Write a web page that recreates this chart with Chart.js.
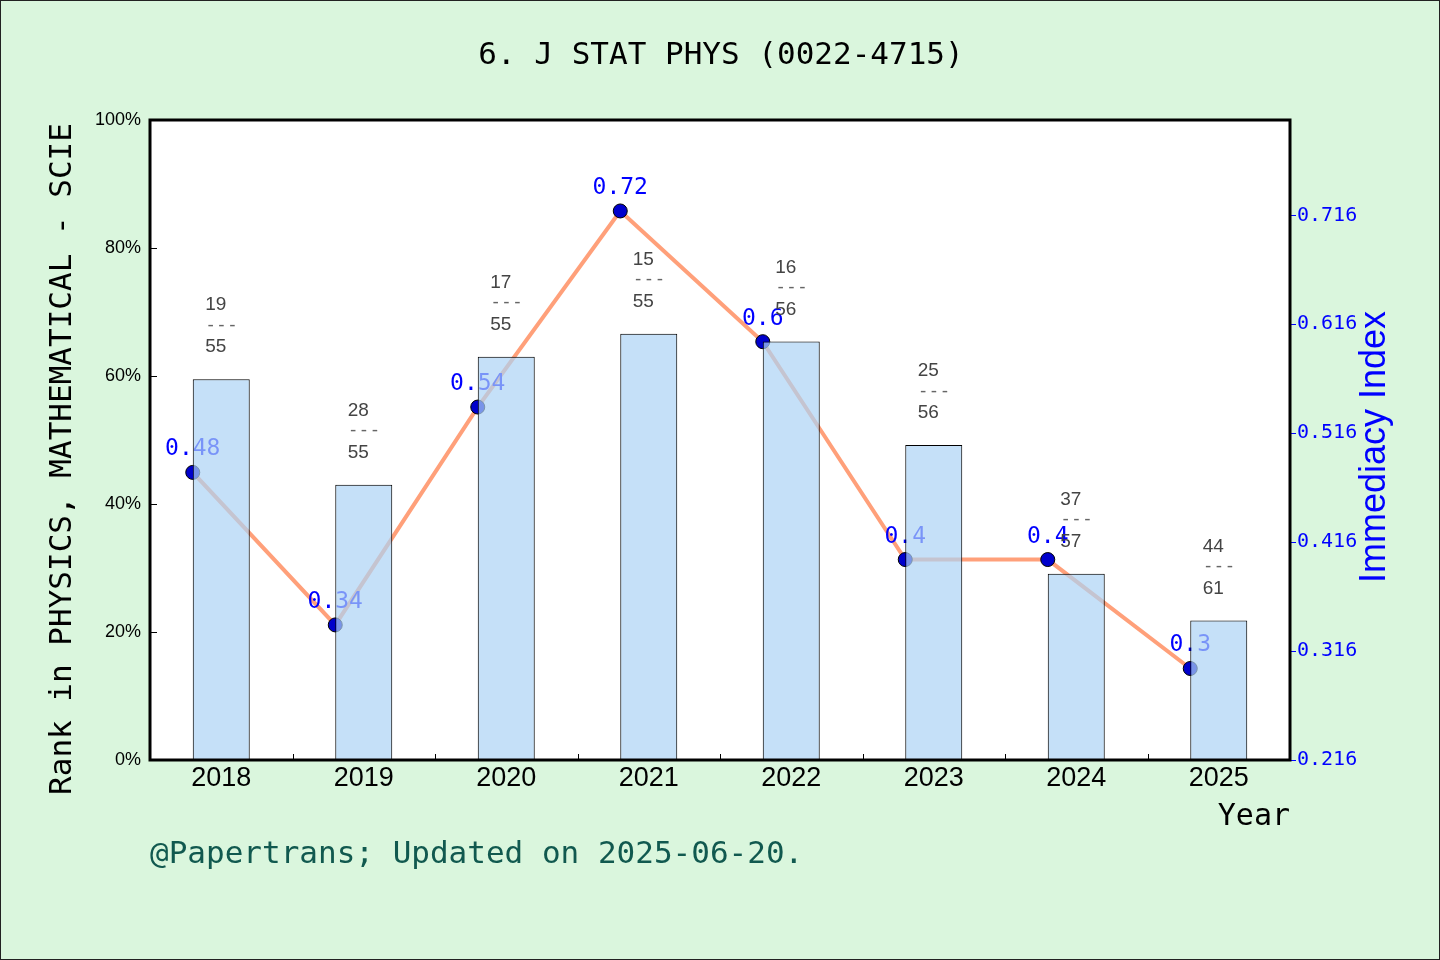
<!DOCTYPE html>
<html>
<head>
<meta charset="utf-8">
<script src="https://cdn.jsdelivr.net/npm/chart.js@4.4.1/dist/chart.umd.min.js"></script>
<style>
html, body { margin: 0; padding: 0; background: #daf6dd; }
canvas { display: block; }
</style>
</head>
<body>
<canvas id="rankChart" width="1440" height="960"></canvas>
<script>
// data
const years = ['2018', '2019', '2020', '2021', '2022', '2023', '2024', '2025'];
const rankPercent = [59.5, 43.0, 63.0, 66.6, 65.4, 49.2, 29.1, 21.8];
const rankPos = [19, 28, 17, 15, 16, 25, 37, 44];
const rankTotal = [55, 55, 55, 55, 56, 56, 57, 61];
const immediacy = [0.48, 0.34, 0.54, 0.72, 0.6, 0.4, 0.4, 0.3];
const leftTicks = [0, 20, 40, 60, 80, 100];
const rightTicks = [0.216, 0.316, 0.416, 0.516, 0.616, 0.716];

const chartTitle = '6. J STAT PHYS (0022-4715)';
const footNote = '@Papertrans; Updated on 2025-06-20.';
const leftTitle = 'Rank in PHYSICS, MATHEMATICAL - SCIE';
const rightTitle = 'Immediacy Index';
const xTitle = 'Year';

const MONO = '"DejaVu Sans Mono", monospace';
const SANS = '"Liberation Sans", Arial, sans-serif';

// points sit on the left edge of each bar
const linePoints = immediacy.map((v, i) => ({ x: i - 0.2, y: v }));

const decor = {
  id: 'decor',
  beforeDraw(chart) {
    const ctx = chart.ctx;
    const a = chart.chartArea;
    ctx.save();
    ctx.fillStyle = '#daf6dd';
    ctx.fillRect(0, 0, chart.width, chart.height);
    ctx.fillStyle = '#ffffff';
    ctx.fillRect(a.left, a.top, a.right - a.left, a.bottom - a.top);
    ctx.restore();
  },
  beforeDatasetDraw(chart, args) {
    // value labels go under the translucent bars
    if (args.index !== 0) return;
    const ctx = chart.ctx;
    const meta = chart.getDatasetMeta(1);
    ctx.save();
    ctx.font = '23px ' + MONO;
    ctx.fillStyle = '#0000ff';
    ctx.textAlign = 'center';
    ctx.textBaseline = 'middle';
    meta.data.forEach((pt, i) => {
      ctx.fillText(String(immediacy[i]), pt.x, pt.y - 23);
    });
    ctx.restore();
  },
  afterDatasetsDraw(chart) {
    const ctx = chart.ctx;
    const a = chart.chartArea;
    const bars = chart.getDatasetMeta(0).data;
    ctx.save();
    // rank fractions above bars
    ctx.textBaseline = 'middle';
    ctx.textAlign = 'left';
    bars.forEach((bar, i) => {
      const x = bar.x - 16;
      ctx.fillStyle = '#444';
      ctx.font = '19px ' + SANS;
      ctx.fillText(String(rankPos[i]), x, bar.y - 74);
      ctx.fillText(String(rankTotal[i]), x, bar.y - 32);
      ctx.fillStyle = '#666';
      ctx.font = '18px ' + MONO;
      ctx.fillText('---', x, bar.y - 54);
    });

    // inward tick marks
    const ys = chart.scales.y;
    const xs = chart.scales.x;
    ctx.strokeStyle = '#000';
    ctx.lineWidth = 1;
    ctx.beginPath();
    leftTicks.forEach(v => {
      const y = Math.round(ys.getPixelForValue(v)) + 0.5;
      ctx.moveTo(a.left, y);
      ctx.lineTo(a.left + 7, y);
    });
    for (let i = 0; i < years.length - 1; i++) {
      const x = Math.round((xs.getPixelForValue(i) + xs.getPixelForValue(i + 1)) / 2) + 0.5;
      ctx.moveTo(x, a.bottom);
      ctx.lineTo(x, a.bottom - 6);
    }
    ctx.stroke();

    // plot frame
    ctx.lineWidth = 3;
    ctx.strokeRect(a.left, a.top, a.right - a.left, a.bottom - a.top);
    ctx.restore();
  },
  afterDraw(chart) {
    const ctx = chart.ctx;
    const a = chart.chartArea;
    ctx.save();
    ctx.textBaseline = 'middle';

    ctx.fillStyle = '#000';
    ctx.font = '31px ' + MONO;
    ctx.textAlign = 'center';
    ctx.fillText(chartTitle, 721, 56);

    ctx.save();
    ctx.translate(63, 459);
    ctx.rotate(-Math.PI / 2);
    ctx.fillText(leftTitle, 0, 0);
    ctx.restore();

    ctx.save();
    ctx.translate(1375, 447);
    ctx.rotate(-Math.PI / 2);
    ctx.fillStyle = '#0000ff';
    ctx.font = '36px ' + SANS;
    ctx.fillText(rightTitle, 0, 0);
    ctx.restore();

    ctx.font = '30px ' + MONO;
    ctx.textAlign = 'right';
    ctx.fillText(xTitle, a.right, 817);

    ctx.fillStyle = '#11594f';
    ctx.font = '31px ' + MONO;
    ctx.textAlign = 'left';
    ctx.fillText(footNote, 150, 855);

    ctx.strokeStyle = '#222';
    ctx.lineWidth = 1;
    ctx.strokeRect(0.5, 0.5, chart.width - 1, chart.height - 1);
    ctx.restore();
  }
};

const ctx = document.getElementById('rankChart').getContext('2d');
const chart = new Chart(ctx, {
  data: {
    labels: years,
    datasets: [{
      type: 'bar',
      label: 'Rank',
      data: rankPercent,
      xAxisID: 'x',
      yAxisID: 'y',
      backgroundColor: 'rgba(172,211,245,0.7)',
      borderColor: '#000',
      borderWidth: 1,
      grouped: false,
      categoryPercentage: 0.8,
      barPercentage: 0.5,
      order: 0
    }, {
      type: 'line',
      label: 'Immediacy Index',
      data: linePoints,
      xAxisID: 'xl',
      yAxisID: 'y1',
      borderColor: '#ffa07a',
      borderWidth: 4,
      pointRadius: 7,
      pointBackgroundColor: '#0000cc',
      pointBorderColor: '#000',
      pointBorderWidth: 1,
      tension: 0,
      order: 1
    }]
  },
  options: {
    responsive: false,
    animation: false,
    devicePixelRatio: 1,
    layout: { padding: { top: 120, left: 0, right: 0, bottom: 0 } },
    plugins: {
      legend: { display: false },
      tooltip: { enabled: false },
      title: { display: false }
    },
    scales: {
      x: {
        type: 'category',
        offset: true,
        grid: { display: false, drawTicks: false },
        border: { display: false },
        ticks: {
          color: '#000',
          font: { family: SANS, size: 27 },
          padding: 2,
          maxRotation: 0
        },
        afterFit(scale) { scale.height = 200; }
      },
      xl: {
        type: 'linear',
        display: false,
        min: -0.5,
        max: years.length - 0.5
      },
      y: {
        position: 'left',
        min: 0,
        max: 100,
        grid: { display: false, drawTicks: false },
        border: { display: false },
        afterBuildTicks(scale) { scale.ticks = leftTicks.map(v => ({ value: v })); },
        ticks: {
          color: '#000',
          font: { family: SANS, size: 18 },
          padding: 9,
          callback: v => v + '%'
        },
        afterFit(scale) { scale.width = 150; }
      },
      y1: {
        position: 'right',
        min: 0.216,
        max: 0.8035,
        grid: { drawOnChartArea: false, color: '#0000ff', tickLength: 6 },
        border: { display: false },
        afterBuildTicks(scale) { scale.ticks = rightTicks.map(v => ({ value: v })); },
        ticks: {
          color: '#0000ff',
          font: { family: MONO, size: 20 },
          padding: 1,
          callback: v => v.toFixed(3)
        },
        afterFit(scale) { scale.width = 150; }
      }
    }
  },
  plugins: [decor]
});
</script>
</body>
</html>
